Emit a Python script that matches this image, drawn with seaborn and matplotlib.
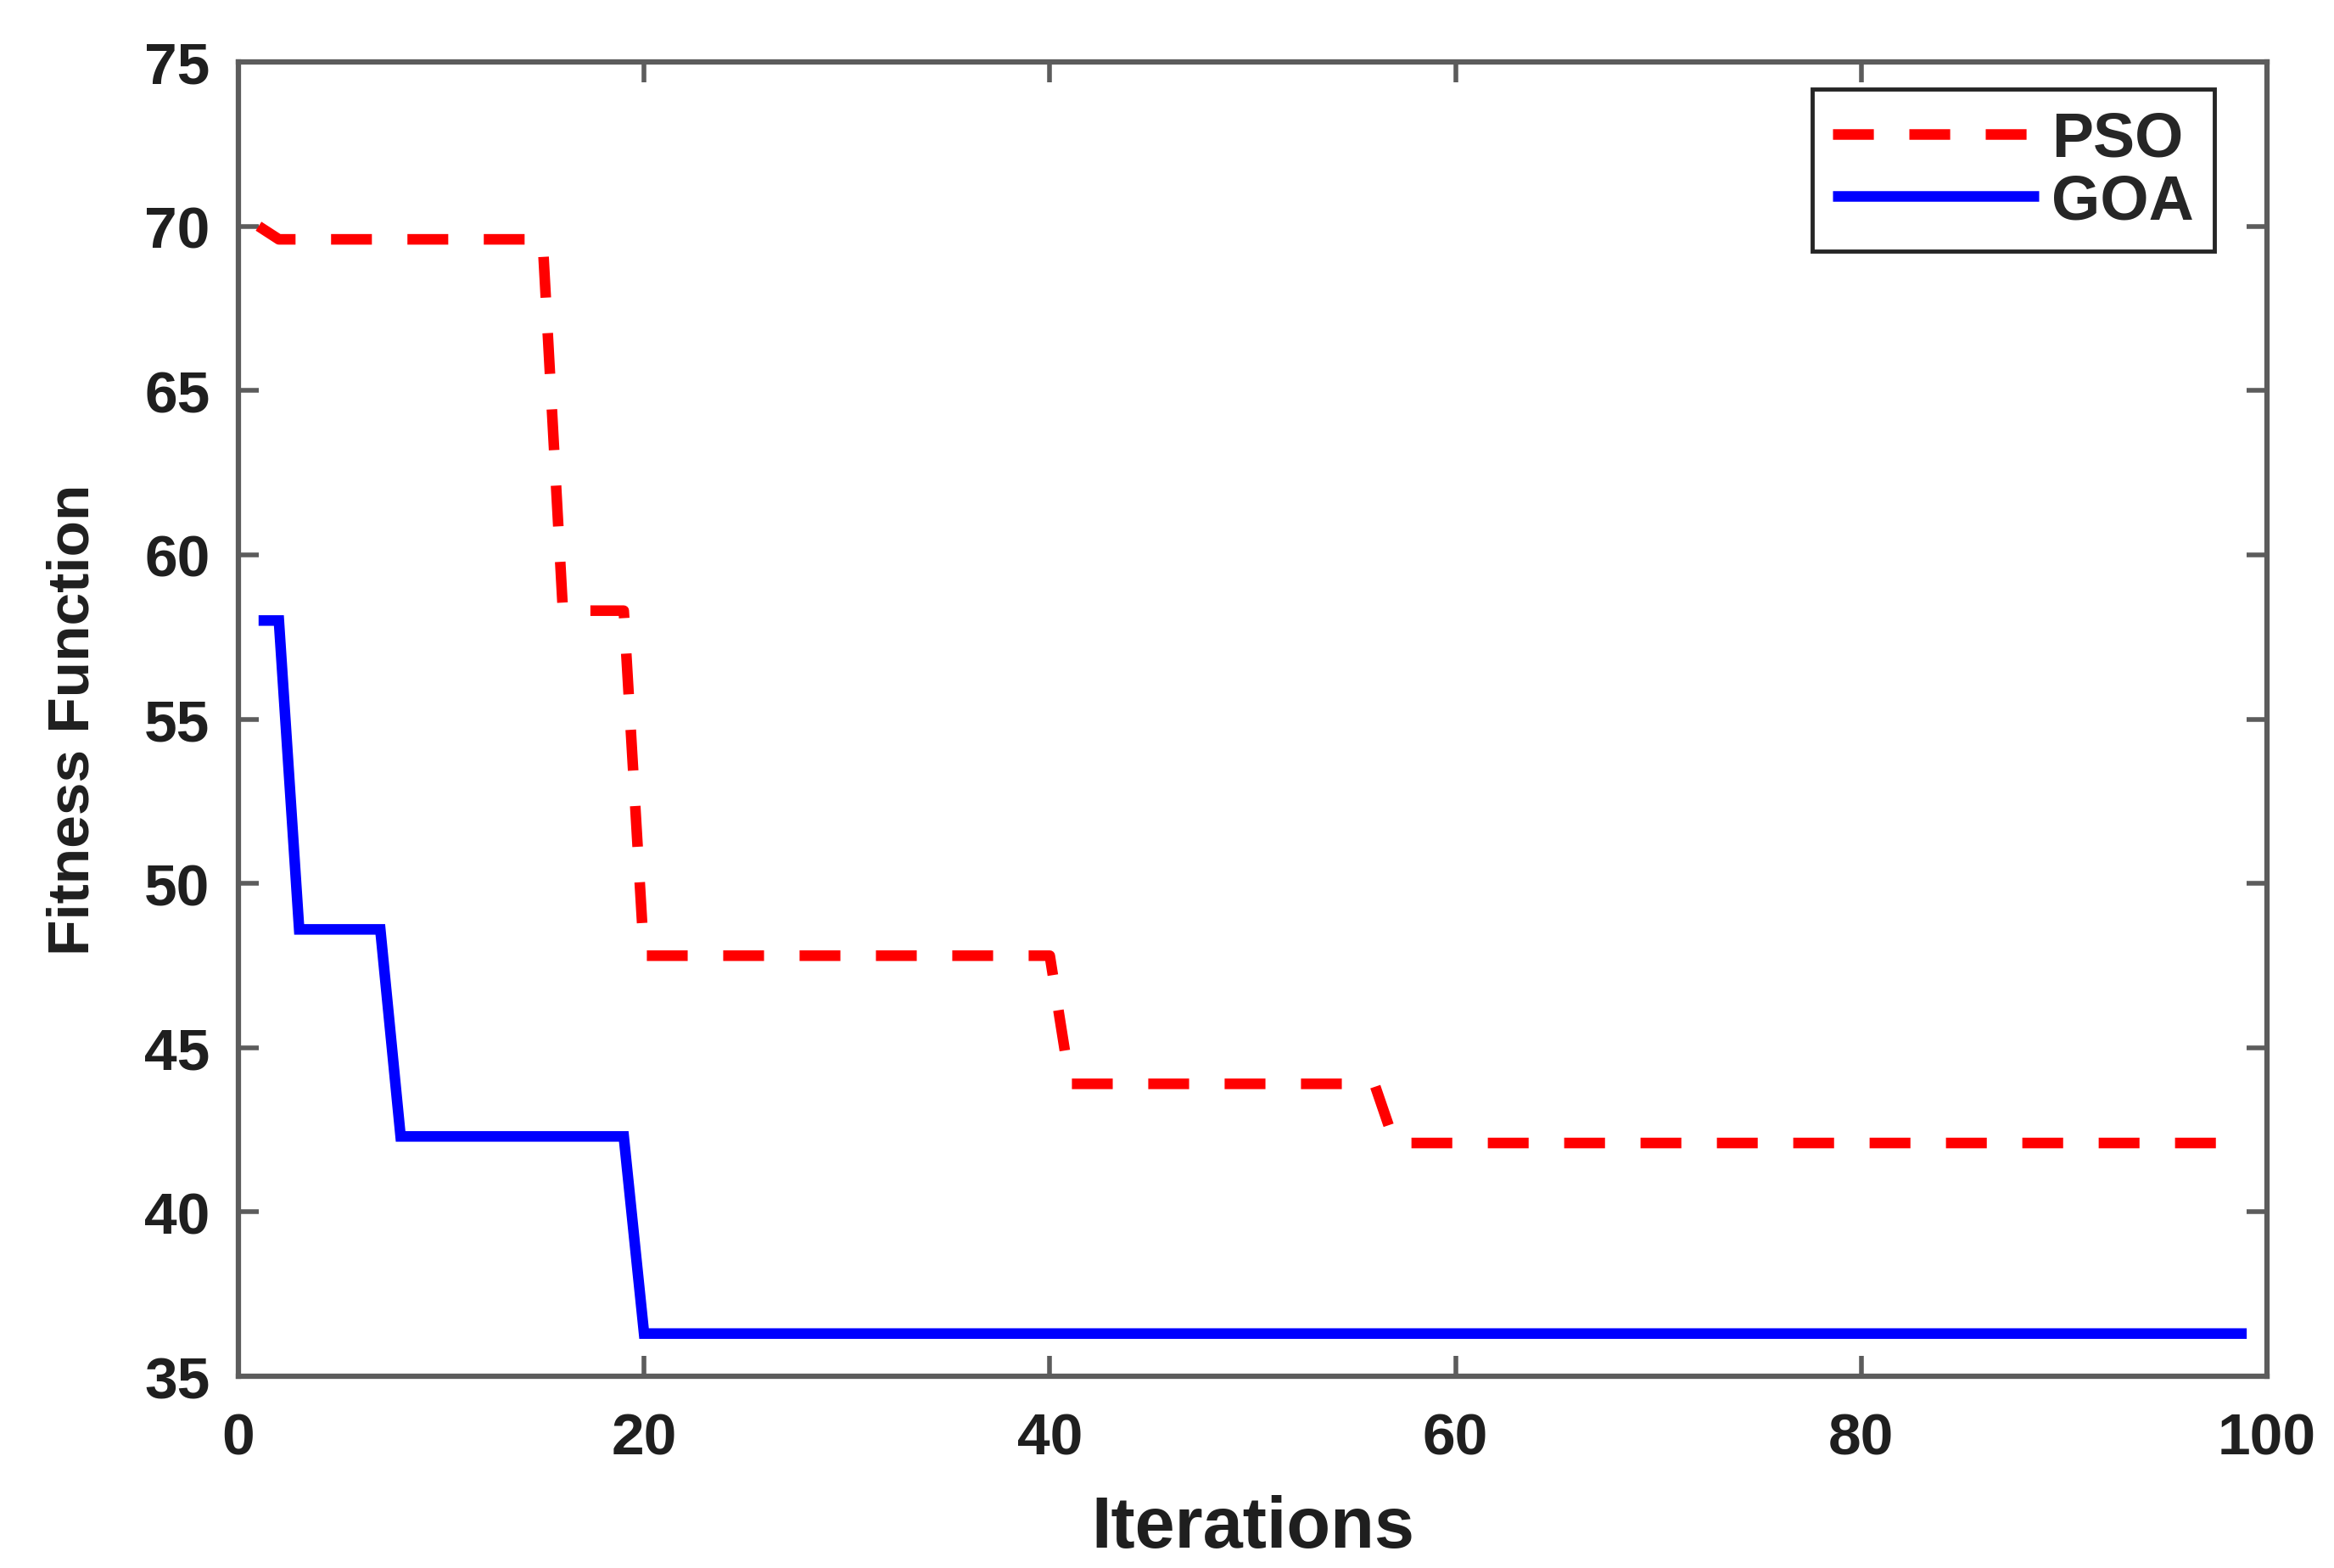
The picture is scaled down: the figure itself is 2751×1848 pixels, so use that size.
import matplotlib
matplotlib.use("Agg")
import matplotlib.pyplot as plt
import seaborn as sns
import pandas as pd

# ---- data ----
pso_iter = [1, 2, 15, 16, 19, 20, 40, 41, 56, 57, 99]
pso_fit = [70.0, 69.6, 69.6, 58.3, 58.3, 47.8, 47.8, 43.9, 43.9, 42.1, 42.1]
goa_iter = [1, 2, 3, 7, 8, 19, 20, 99]
goa_fit = [58.0, 58.0, 48.6, 48.6, 42.3, 42.3, 36.3, 36.3]
x_ticks = [0, 20, 40, 60, 80, 100]
y_ticks = [35, 40, 45, 50, 55, 60, 65, 70, 75]
series_names = ["PSO", "GOA"]

sns.set_style("white")
plt.rcParams["font.family"] = ["Liberation Sans", "DejaVu Sans"]
plt.rcParams["font.weight"] = "bold"

pso_df = pd.DataFrame({"Iterations": pso_iter, "Fitness": pso_fit})
goa_df = pd.DataFrame({"Iterations": goa_iter, "Fitness": goa_fit})

fig = plt.figure(figsize=(27.51, 18.49), dpi=100)
ax = fig.add_axes([0.1021, 0.1222, 0.8692, 0.8378])

sns.lineplot(data=pso_df, x="Iterations", y="Fitness", ax=ax, color="#ff0000",
             linewidth=9, linestyle=(0, (3.85, 3.35)), label=series_names[0],
             solid_capstyle="butt", dash_capstyle="butt")
sns.lineplot(data=goa_df, x="Iterations", y="Fitness", ax=ax, color="#0000ff",
             linewidth=9, label=series_names[1], solid_joinstyle="miter",
             solid_capstyle="butt")

ax.set_xlim(0, 100)
ax.set_ylim(35, 75)
ax.set_xticks(x_ticks)
ax.set_yticks(y_ticks)
ax.set_xticklabels([str(v) for v in x_ticks])
ax.set_yticklabels([str(v) for v in y_ticks])

spine_col = "#5c5c5c"
for s in ax.spines.values():
    s.set_visible(True)
    s.set_color(spine_col)
    s.set_linewidth(4.5)

ax.tick_params(axis="both", which="major", direction="in", length=17, width=4,
               color=spine_col, labelsize=50, labelcolor="#1f1f1f",
               top=True, right=True, bottom=True, left=True)
ax.tick_params(axis="x", pad=30)
ax.tick_params(axis="y", pad=24)
for lbl in ax.get_xticklabels() + ax.get_yticklabels():
    lbl.set_fontweight("bold")

ax.set_xlabel("Iterations", fontsize=61, fontweight="bold", color="#1f1f1f", labelpad=24)
ax.set_ylabel("Fitness Function", fontsize=50, fontweight="bold", color="#1f1f1f", labelpad=37)

leg = ax.legend(loc="upper right", bbox_to_anchor=(0.974, 0.979), borderaxespad=0,
                handlelength=3.3, handletextpad=0.2, borderpad=0.33,
                labelspacing=0.06, fancybox=False, framealpha=1, edgecolor="#262626",
                prop={"weight": "bold", "size": 53})
leg.get_frame().set_linewidth(3.5)

fig.savefig("out.png", dpi=100, facecolor="white")
